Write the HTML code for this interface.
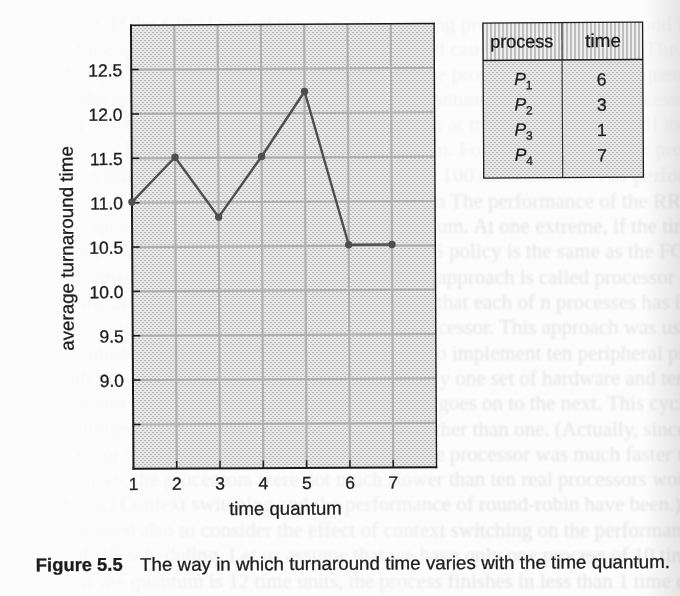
<!DOCTYPE html>
<html><head><meta charset="utf-8"><style>
html,body{margin:0;padding:0;width:680px;height:596px;overflow:hidden;background:#fcfcfc;}
svg{display:block;position:absolute;left:0;top:0;will-change:transform;}
text{font-family:"Liberation Sans",sans-serif;fill:#1c1c1c;stroke:#1c1c1c;stroke-width:0.3px;}
</style></head><body>
<svg width="680" height="596" viewBox="0 0 680 596">
<defs>
<linearGradient id="shade" x1="0" y1="0" x2="1" y2="0">
<stop offset="0" stop-color="#000" stop-opacity="0"/>
<stop offset="1" stop-color="#000" stop-opacity="0.09"/>
</linearGradient>
<pattern id="ht" patternUnits="userSpaceOnUse" width="4" height="4">
<rect width="4" height="4" fill="#e7e7e7"/>
<rect x="0" y="0" width="2" height="1" fill="#b8b8b8"/>
<rect x="2" y="2" width="2" height="1" fill="#b8b8b8"/>
</pattern>
<pattern id="vs" patternUnits="userSpaceOnUse" width="4" height="8" x="0">
<rect width="4" height="8" fill="#f0f0f0"/>
<rect x="2" y="0" width="2" height="8" fill="#bebebe"/>
</pattern>
</defs>

<filter id="bl15" x="-50%" y="-50%" width="200%" height="200%"><feGaussianBlur stdDeviation="14"/></filter>
<linearGradient id="lg" x1="0" y1="0" x2="1" y2="0"><stop offset="0" stop-color="#000"/><stop offset="0.25" stop-color="#444"/><stop offset="1" stop-color="#444"/></linearGradient>
<mask id="bm" maskUnits="userSpaceOnUse" x="0" y="0" width="680" height="596"><rect x="0" y="0" width="680" height="596" fill="url(#lg)"/><g filter="url(#bl15)"><rect x="440" y="-40" width="280" height="230" fill="#5a5a5a"/><rect x="440" y="190" width="280" height="450" fill="#fff"/><rect x="185" y="470" width="255" height="170" fill="#a0a0a0"/></g></mask>
<filter id="sb" x="-5%" y="-5%" width="110%" height="110%"><feGaussianBlur stdDeviation="0.8"/></filter>
<g mask="url(#bm)"><g filter="url(#sb)">
<text x="-40" y="31" style="font-family:&quot;Liberation Serif&quot;,serif;font-size:21px;fill:#e6e6e6;stroke:none">to its completion. If the CPU burst of the currently running process is preempted and is put back in the ready</text>
<text x="-40" y="56" style="font-family:&quot;Liberation Serif&quot;,serif;font-size:21px;fill:#e6e6e6;stroke:none">longer than 1 time quantum, the timer will go off and will cause the ready queue. The CPU scheduler then selects</text>
<text x="-40" y="81" style="font-family:&quot;Liberation Serif&quot;,serif;font-size:21px;fill:#e6e6e6;stroke:none">interrupt to the operating system. A context switch will be processes in the ready queue and the time</text>
<text x="-40" y="106" style="font-family:&quot;Liberation Serif&quot;,serif;font-size:21px;fill:#e6e6e6;stroke:none">executed, and the process will be put at the tail of the quantum is q, then each process gets 1/n of the CPU</text>
<text x="-40" y="131" style="font-family:&quot;Liberation Serif&quot;,serif;font-size:21px;fill:#e6e6e6;stroke:none">in chunks of at most q time units. Each process must wait at most q time units until its next quantum</text>
<text x="-40" y="156" style="font-family:&quot;Liberation Serif&quot;,serif;font-size:21px;fill:#e6e6e6;stroke:none">no longer than (n - 1) x q time units until its next quantum. For example, with five processes and</text>
<text x="-40" y="182" style="font-family:&quot;Liberation Serif&quot;,serif;font-size:21px;fill:#e6e6e6;stroke:none">five processes, a time quantum of 20 milliseconds, every 100 milliseconds. The performance of the RR</text>
<text x="-40" y="208" style="font-family:&quot;Liberation Serif&quot;,serif;font-size:21px;fill:#e6e6e6;stroke:none">The performance of the RR algorithm depends heavily on The performance of the RR algorithm depends</text>
<text x="-40" y="233" style="font-family:&quot;Liberation Serif&quot;,serif;font-size:21px;fill:#e6e6e6;stroke:none">size of the time quantum. At one extreme, the time quantum. At one extreme, if the time quantum</text>
<text x="-40" y="258" style="font-family:&quot;Liberation Serif&quot;,serif;font-size:21px;fill:#e6e6e6;stroke:none">is extremely large, the RR policy is the same as the FCFS policy is the same as the FCFS policy. If</text>
<text x="-40" y="284" style="font-family:&quot;Liberation Serif&quot;,serif;font-size:21px;fill:#e6e6e6;stroke:none">quantum is extremely small (say, 1 millisecond), the RR approach is called processor sharing and</text>
<text x="-40" y="309" style="font-family:&quot;Liberation Serif&quot;,serif;font-size:21px;fill:#e6e6e6;stroke:none">processor sharing and (in theory) creates the appearance that each of n processes has its own</text>
<text x="-40" y="334" style="font-family:&quot;Liberation Serif&quot;,serif;font-size:21px;fill:#e6e6e6;stroke:none">its own processor running at 1/n the speed of the real processor. This approach was used in Control</text>
<text x="-40" y="360" style="font-family:&quot;Liberation Serif&quot;,serif;font-size:21px;fill:#e6e6e6;stroke:none">was used in Control Data Corporation (CDC) hardware to implement ten peripheral processors with</text>
<text x="-40" y="385" style="font-family:&quot;Liberation Serif&quot;,serif;font-size:21px;fill:#e6e6e6;stroke:none">processors with only one set of hardware and ten sets only one set of hardware and ten sets of registers</text>
<text x="-40" y="410" style="font-family:&quot;Liberation Serif&quot;,serif;font-size:21px;fill:#e6e6e6;stroke:none">executes one instruction for one set of registers and then goes on to the next. This cycle continues</text>
<text x="-40" y="436" style="font-family:&quot;Liberation Serif&quot;,serif;font-size:21px;fill:#e6e6e6;stroke:none">This cycle continues, resulting, in ten slow processors rather than one. (Actually, since the processor</text>
<text x="-40" y="461" style="font-family:&quot;Liberation Serif&quot;,serif;font-size:21px;fill:#e6e6e6;stroke:none">since the processor was much faster than memory and the processor was much faster than memory and</text>
<text x="-40" y="486" style="font-family:&quot;Liberation Serif&quot;,serif;font-size:21px;fill:#e6e6e6;stroke:none">referenced memory, the processors were not much slower than ten real processors would have been.)</text>
<text x="-40" y="511" style="font-family:&quot;Liberation Serif&quot;,serif;font-size:21px;fill:#e6e6e6;stroke:none">would have been.) Context switching and the performance of round-robin have been.)  In software, we</text>
<text x="-40" y="537" style="font-family:&quot;Liberation Serif&quot;,serif;font-size:21px;fill:#e6e6e6;stroke:none">In software, we need also to consider the effect of context switching on the performance of RR scheduling</text>
<text x="-40" y="562" style="font-family:&quot;Liberation Serif&quot;,serif;font-size:21px;fill:#e6e6e6;stroke:none">performance of RR scheduling. Let us assume that we have only one process of 10 time units. If the quantum</text>
<text x="-40" y="588" style="font-family:&quot;Liberation Serif&quot;,serif;font-size:21px;fill:#e6e6e6;stroke:none">10 time units. If the quantum is 12 time units, the process finishes in less than 1 time quantum, with</text>
</g></g>
<polygon points="130.973,25.243 434.069,23.550 436.546,467.143 133.451,468.836" fill="url(#ht)"/>
<polygon points="482.867,23.098 642.564,22.206 643.430,177.203 483.733,178.095" fill="url(#ht)"/>
<polygon points="482.867,23.098 642.564,22.206 642.773,59.505 483.075,60.397" fill="url(#vs)"/>
<g transform="rotate(-0.32 340 298)">
<line x1="175.80" y1="24.08" x2="175.80" y2="467.68" stroke="#b0b0b0" stroke-width="2.2"/>
<line x1="219.10" y1="24.08" x2="219.10" y2="467.68" stroke="#b0b0b0" stroke-width="2.2"/>
<line x1="262.40" y1="24.08" x2="262.40" y2="467.68" stroke="#b0b0b0" stroke-width="2.2"/>
<line x1="305.70" y1="24.08" x2="305.70" y2="467.68" stroke="#b0b0b0" stroke-width="2.2"/>
<line x1="349.00" y1="24.08" x2="349.00" y2="467.68" stroke="#b0b0b0" stroke-width="2.2"/>
<line x1="392.30" y1="24.08" x2="392.30" y2="467.68" stroke="#b0b0b0" stroke-width="2.2"/>
<line x1="132.5" y1="68.44" x2="435.59999999999997" y2="68.44" stroke="#b0b0b0" stroke-width="2.2"/>
<line x1="132.5" y1="112.80" x2="435.59999999999997" y2="112.80" stroke="#b0b0b0" stroke-width="2.2"/>
<line x1="132.5" y1="157.16" x2="435.59999999999997" y2="157.16" stroke="#b0b0b0" stroke-width="2.2"/>
<line x1="132.5" y1="201.52" x2="435.59999999999997" y2="201.52" stroke="#b0b0b0" stroke-width="2.2"/>
<line x1="132.5" y1="245.88" x2="435.59999999999997" y2="245.88" stroke="#b0b0b0" stroke-width="2.2"/>
<line x1="132.5" y1="290.24" x2="435.59999999999997" y2="290.24" stroke="#b0b0b0" stroke-width="2.2"/>
<line x1="132.5" y1="334.60" x2="435.59999999999997" y2="334.60" stroke="#b0b0b0" stroke-width="2.2"/>
<line x1="132.5" y1="378.96" x2="435.59999999999997" y2="378.96" stroke="#b0b0b0" stroke-width="2.2"/>
<line x1="132.5" y1="423.32" x2="435.59999999999997" y2="423.32" stroke="#b0b0b0" stroke-width="2.2"/>
<line x1="132.5" y1="68.44" x2="140.0" y2="68.44" stroke="#222" stroke-width="1.5"/>
<line x1="132.5" y1="112.80" x2="140.0" y2="112.80" stroke="#222" stroke-width="1.5"/>
<line x1="132.5" y1="157.16" x2="140.0" y2="157.16" stroke="#222" stroke-width="1.5"/>
<line x1="132.5" y1="201.52" x2="140.0" y2="201.52" stroke="#222" stroke-width="1.5"/>
<line x1="132.5" y1="245.88" x2="140.0" y2="245.88" stroke="#222" stroke-width="1.5"/>
<line x1="132.5" y1="290.24" x2="140.0" y2="290.24" stroke="#222" stroke-width="1.5"/>
<line x1="132.5" y1="334.60" x2="140.0" y2="334.60" stroke="#222" stroke-width="1.5"/>
<line x1="132.5" y1="378.96" x2="140.0" y2="378.96" stroke="#222" stroke-width="1.5"/>
<line x1="132.5" y1="423.32" x2="140.0" y2="423.32" stroke="#222" stroke-width="1.5"/>
<line x1="175.80" y1="467.68" x2="175.80" y2="460.18" stroke="#222" stroke-width="1.5"/>
<line x1="219.10" y1="467.68" x2="219.10" y2="460.18" stroke="#222" stroke-width="1.5"/>
<line x1="262.40" y1="467.68" x2="262.40" y2="460.18" stroke="#222" stroke-width="1.5"/>
<line x1="305.70" y1="467.68" x2="305.70" y2="460.18" stroke="#222" stroke-width="1.5"/>
<line x1="349.00" y1="467.68" x2="349.00" y2="460.18" stroke="#222" stroke-width="1.5"/>
<line x1="392.30" y1="467.68" x2="392.30" y2="460.18" stroke="#222" stroke-width="1.5"/>
<line x1="131.5" y1="24.08" x2="436.29999999999995" y2="24.08" stroke="#1a1a1a" stroke-width="1.6"/>
<line x1="131.5" y1="467.68" x2="436.29999999999995" y2="467.68" stroke="#1a1a1a" stroke-width="2"/>
<line x1="132.5" y1="23.279999999999998" x2="132.5" y2="468.68" stroke="#1a1a1a" stroke-width="2"/>
<line x1="435.59999999999997" y1="23.279999999999998" x2="435.59999999999997" y2="468.68" stroke="#1a1a1a" stroke-width="1.4"/>
<polyline points="132.50,200.90 175.80,156.36 219.10,216.42 262.40,156.10 305.70,91.33 349.00,244.82 392.30,244.82" fill="none" stroke="#4e4e4e" stroke-width="2.4" stroke-linejoin="round"/>
<circle cx="132.50" cy="200.90" r="3.7" fill="#4e4e4e"/>
<circle cx="175.80" cy="156.36" r="3.7" fill="#4e4e4e"/>
<circle cx="219.10" cy="216.42" r="3.7" fill="#4e4e4e"/>
<circle cx="262.40" cy="156.10" r="3.7" fill="#4e4e4e"/>
<circle cx="305.70" cy="91.33" r="3.7" fill="#4e4e4e"/>
<circle cx="349.00" cy="244.82" r="3.7" fill="#4e4e4e"/>
<circle cx="392.30" cy="244.82" r="3.7" fill="#4e4e4e"/>
<text x="123.5" y="75.04" font-size="17.5" text-anchor="end">12.5</text>
<text x="123.5" y="119.40" font-size="17.5" text-anchor="end">12.0</text>
<text x="123.5" y="163.76" font-size="17.5" text-anchor="end">11.5</text>
<text x="123.5" y="208.12" font-size="17.5" text-anchor="end">11.0</text>
<text x="123.5" y="252.48" font-size="17.5" text-anchor="end">10.5</text>
<text x="123.5" y="296.84" font-size="17.5" text-anchor="end">10.0</text>
<text x="123.5" y="341.20" font-size="17.5" text-anchor="end">9.5</text>
<text x="123.5" y="385.56" font-size="17.5" text-anchor="end">9.0</text>
<text x="132.50" y="488.88" font-size="17.5" text-anchor="middle">1</text>
<text x="175.80" y="488.88" font-size="17.5" text-anchor="middle">2</text>
<text x="219.10" y="488.88" font-size="17.5" text-anchor="middle">3</text>
<text x="262.40" y="488.88" font-size="17.5" text-anchor="middle">4</text>
<text x="305.70" y="488.88" font-size="17.5" text-anchor="middle">5</text>
<text x="349.00" y="488.88" font-size="17.5" text-anchor="middle">6</text>
<text x="392.30" y="488.88" font-size="17.5" text-anchor="middle">7</text>
<text x="284.3" y="514.5" font-size="18.6" text-anchor="middle">time quantum</text>
<text transform="translate(73.5 247) rotate(-90)" font-size="18.8" text-anchor="middle">average turnaround time</text>
<rect x="484.4" y="23.9" width="159.70000000000005" height="155.0" fill="none" stroke="#1a1a1a" stroke-width="1.3"/>
<line x1="484.4" y1="61.2" x2="644.1" y2="61.2" stroke="#1a1a1a" stroke-width="1.5"/>
<line x1="563.4" y1="23.9" x2="563.4" y2="178.9" stroke="#2a2a2a" stroke-width="1.1"/>
<text x="523.1" y="48.5" font-size="18" text-anchor="middle">process</text>
<text x="604.5" y="48.5" font-size="18.8" text-anchor="middle">time</text>
<text x="515.5" y="86.0" font-size="17.5" font-style="italic">P</text>
<text x="527" y="90.3" font-size="12">1</text>
<text x="602.8" y="87.0" font-size="17.5" text-anchor="middle">6</text>
<text x="515.5" y="111.2" font-size="17.5" font-style="italic">P</text>
<text x="527" y="115.5" font-size="12">2</text>
<text x="602.8" y="112.2" font-size="17.5" text-anchor="middle">3</text>
<text x="515.5" y="136.5" font-size="17.5" font-style="italic">P</text>
<text x="527" y="140.8" font-size="12">3</text>
<text x="602.8" y="137.5" font-size="17.5" text-anchor="middle">1</text>
<text x="515.5" y="161.8" font-size="17.5" font-style="italic">P</text>
<text x="527" y="166.10000000000002" font-size="12">4</text>
<text x="602.8" y="162.8" font-size="17.5" text-anchor="middle">7</text>
<text x="34.3" y="569.5" font-size="18.4" font-weight="bold">Figure 5.5</text>
<text x="138.5" y="569.8" font-size="18.6" textLength="530" lengthAdjust="spacingAndGlyphs">The way in which turnaround time varies with the time quantum.</text>
</g>
<rect x="645" y="0" width="35" height="596" fill="url(#shade)"/>
</svg></body></html>
